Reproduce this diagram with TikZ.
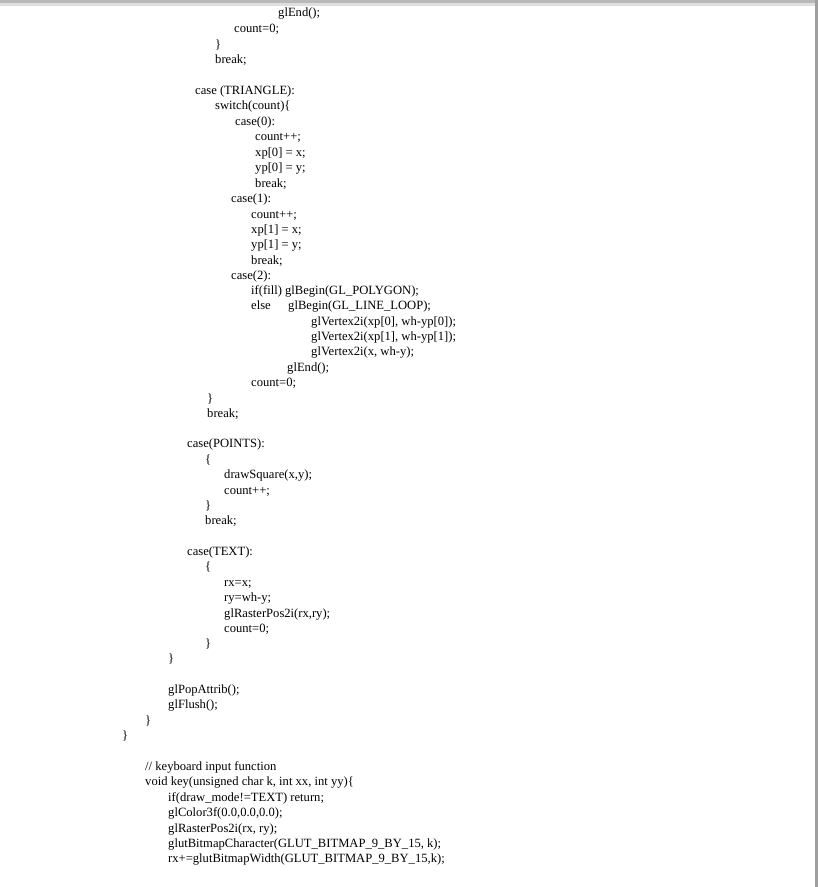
\documentclass[tikz,border=0pt]{standalone}
\usepackage{fontspec}
\setmainfont{Liberation Serif}
\newcommand{\ul}{\_}
\begin{document}
\begin{tikzpicture}[x=1pt,y=-1pt,
  code/.style={anchor=base west,inner sep=0pt,font=\fontsize{12.6}{15}\selectfont}]
\useasboundingbox (0,0) rectangle (818,887);
\fill[white] (0,0) rectangle (818,887);
\fill[gray!55] (0,0) rectangle (818,3);
\fill[gray!25] (0,3) rectangle (818,6);
\fill[gray!75] (815,0) rectangle (818,887);
\node[code] (l1) at (278,16) {glEnd();};
\node[code] (l2) at (234,32) {count=0;};
\node[code] (l3) at (215,48) {\}};
\node[code] (l4) at (215,63) {break;};
\node[code] (l5) at (195,94) {case (TRIANGLE):};
\node[code] (l6) at (215,109) {switch(count)\{};
\node[code] (l7) at (235,125) {case(0):};
\node[code] (l8) at (255,140) {count++;};
\node[code] (l9) at (255,156) {xp[0] = x;};
\node[code] (l10) at (255,171) {yp[0] = y;};
\node[code] (l11) at (255,187) {break;};
\node[code] (l12) at (231,202) {case(1):};
\node[code] (l13) at (251,218) {count++;};
\node[code] (l14) at (251,233) {xp[1] = x;};
\node[code] (l15) at (251,248) {yp[1] = y;};
\node[code] (l16) at (251,264) {break;};
\node[code] (l17) at (231,279) {case(2):};
\node[code] (l18) at (251,294) {if(fill) glBegin(GL\ul POLYGON);};
\node[code] (l19) at (251,309) {else};
\node[code] (l19b) at (288,309) {glBegin(GL\ul LINE\ul LOOP);};
\node[code] (l20) at (311,325) {glVertex2i(xp[0], wh-yp[0]);};
\node[code] (l21) at (311,340) {glVertex2i(xp[1], wh-yp[1]);};
\node[code] (l22) at (311,355) {glVertex2i(x, wh-y);};
\node[code] (l23) at (287,371) {glEnd();};
\node[code] (l24) at (251,386) {count=0;};
\node[code] (l25) at (207,402) {\}};
\node[code] (l26) at (207,417) {break;};
\node[code] (l27) at (187,447) {case(POINTS):};
\node[code] (l28) at (205,463) {\{};
\node[code] (l29) at (224,478) {drawSquare(x,y);};
\node[code] (l30) at (224,494) {count++;};
\node[code] (l31) at (205,509) {\}};
\node[code] (l32) at (205,524) {break;};
\node[code] (l33) at (187,555) {case(TEXT):};
\node[code] (l34) at (205,570) {\{};
\node[code] (l35) at (224,586) {rx=x;};
\node[code] (l36) at (224,601) {ry=wh-y;};
\node[code] (l37) at (224,617) {glRasterPos2i(rx,ry);};
\node[code] (l38) at (224,632) {count=0;};
\node[code] (l39) at (205,647) {\}};
\node[code] (l40) at (168,662) {\}};
\node[code] (l41) at (168,693) {glPopAttrib();};
\node[code] (l42) at (168,708) {glFlush();};
\node[code] (l43) at (145,724) {\}};
\node[code] (l44) at (122,739) {\}};
\node[code] (l45) at (145,770) {// keyboard input function};
\node[code] (l46) at (145,785) {void key(unsigned char k, int xx, int yy)\{};
\node[code] (l47) at (168,801) {if(draw\ul mode!=TEXT) return;};
\node[code] (l48) at (168,816) {glColor3f(0.0,0.0,0.0);};
\node[code] (l49) at (168,832) {glRasterPos2i(rx, ry);};
\node[code] (l50) at (168,847) {glutBitmapCharacter(GLUT\ul BITMAP\ul 9\ul BY\ul 15, k);};
\node[code] (l51) at (168,862) {rx+=glutBitmapWidth(GLUT\ul BITMAP\ul 9\ul BY\ul 15,k);};
\end{tikzpicture}
\end{document}
